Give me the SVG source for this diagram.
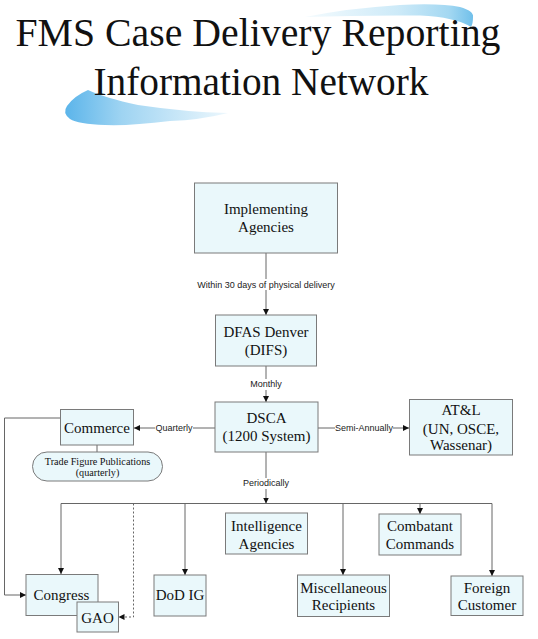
<svg xmlns="http://www.w3.org/2000/svg" width="538" height="639" viewBox="0 0 538 639">
<defs>
<linearGradient id="gTop" x1="305" y1="0" x2="474" y2="0" gradientUnits="userSpaceOnUse">
<stop offset="0" stop-color="#f4fbfe"/>
<stop offset="0.55" stop-color="#cdeaf8"/>
<stop offset="0.85" stop-color="#a4d8f2"/>
<stop offset="1" stop-color="#6fbfea"/>
</linearGradient>
<linearGradient id="gBot" x1="64" y1="0" x2="230" y2="0" gradientUnits="userSpaceOnUse">
<stop offset="0" stop-color="#5ab4ea"/>
<stop offset="0.35" stop-color="#9fd4f2"/>
<stop offset="1" stop-color="#eef8fd"/>
</linearGradient>
<marker id="arr" viewBox="0 0 10 10" refX="10" refY="5" markerWidth="6" markerHeight="6" orient="auto" markerUnits="userSpaceOnUse">
<path d="M0,0 L10,5 L0,10 z" fill="#111"/>
</marker>
</defs>
<style>
.node rect{fill:#eaf8fb;stroke:#7a7a7a;stroke-width:1}
.node text{font-family:"Liberation Serif","Times New Roman",serif;font-size:15px;fill:#111;text-anchor:middle}
.pill rect{fill:#eaf8fb;stroke:#7a7a7a;stroke-width:1}
.pill text{font-family:"Liberation Serif","Times New Roman",serif;font-size:10.2px;fill:#111;text-anchor:middle}
.conn path{fill:none;stroke:#666;stroke-width:1}
.conn .a{marker-end:url(#arr)}
.conn .d{stroke-dasharray:2,2}
.lbl{font-family:"Liberation Sans",Arial,sans-serif;font-size:9px;fill:#222;text-anchor:middle}
.title{font-family:"Liberation Serif","Times New Roman",serif;font-size:39px;fill:#111;text-anchor:middle}
</style>
<rect width="538" height="639" fill="#ffffff"/>
<g id="swooshes">
<path d="M305,17 Q350,8 400,5 Q440,3 460,7 Q474,11 473,17 Q473,24 471,27 Q455,17 420,15.5 Q360,15 305,17 Z" fill="url(#gTop)"/>
<path d="M228,113 Q200,120 170,121 Q130,126 105,125 Q78,124 70,119 Q62,113 67,106 Q74,96 88,90 Q105,98 138,105 Q185,112 228,113 Z" fill="url(#gBot)"/>
</g>
<g id="title">
<text class="title" x="258" y="45.5" textLength="485" lengthAdjust="spacingAndGlyphs">FMS Case Delivery Reporting</text>
<text class="title" x="261" y="94.5" textLength="335" lengthAdjust="spacingAndGlyphs">Information Network</text>
</g>
<g id="connectors" class="conn">
<path class="a" d="M266,253 V315"/>
<path class="a" d="M266,366 V402"/>
<path class="a" d="M215,428 H134"/>
<path class="a" d="M318,428 H409"/>
<path d="M97,445 V452"/>
<path class="a" d="M266,452 V503.5"/>
<path d="M61,503.5 H492"/>
<path class="a" d="M61,503.5 V574"/>
<path class="a" d="M185,503.5 V575"/>
<path class="a" d="M343,503.5 V575"/>
<path class="a" d="M420,503.5 V514"/>
<path class="a" d="M492,503.5 V576"/>
<path class="a" d="M60,418 H4.5 V595 H26"/>
<path class="a d" d="M133.5,503.5 V617 H118.5"/>
</g>
<g id="labels">
<rect x="195" y="279" width="142" height="11" fill="#fff"/>
<text class="lbl" x="266" y="287.5">Within 30 days of physical delivery</text>
<rect x="249" y="379" width="34" height="11" fill="#fff"/>
<text class="lbl" x="266" y="387">Monthly</text>
<rect x="155" y="423" width="38" height="10" fill="#fff"/>
<text class="lbl" x="174" y="431">Quarterly</text>
<rect x="335" y="423" width="58" height="10" fill="#fff"/>
<text class="lbl" x="364" y="431">Semi-Annually</text>
<rect x="240" y="478" width="52" height="11" fill="#fff"/>
<text class="lbl" x="266" y="486">Periodically</text>
</g>
<g id="implementing" class="node">
<rect x="194.5" y="183" width="143" height="70"/>
<text x="266" y="214">Implementing</text>
<text x="266" y="232">Agencies</text>
</g>
<g id="dfas" class="node">
<rect x="215.5" y="315" width="101" height="51"/>
<text x="266" y="337">DFAS Denver</text>
<text x="266" y="355">(DIFS)</text>
</g>
<g id="dsca" class="node">
<rect x="215" y="402" width="103" height="50"/>
<text x="266.5" y="423">DSCA</text>
<text x="266.5" y="441">(1200 System)</text>
</g>
<g id="commerce" class="node">
<rect x="60.5" y="409.5" width="73" height="35.5"/>
<text x="97" y="433">Commerce</text>
</g>
<g id="trade" class="pill">
<rect x="32.5" y="452" width="130" height="29" rx="14.5" ry="14.5"/>
<text x="97.5" y="464.5">Trade Figure Publications</text>
<text x="97.5" y="476">(quarterly)</text>
</g>
<g id="atl" class="node">
<rect x="409.5" y="399.5" width="103" height="55.5"/>
<text x="461" y="415">AT&amp;L</text>
<text x="461" y="433.5">(UN, OSCE,</text>
<text x="461" y="450">Wassenar)</text>
</g>
<g id="intelligence" class="node">
<rect x="225.5" y="513" width="82" height="41"/>
<text x="266.5" y="531">Intelligence</text>
<text x="266.5" y="548.5">Agencies</text>
</g>
<g id="combatant" class="node">
<rect x="379" y="514" width="82" height="41"/>
<text x="420" y="531">Combatant</text>
<text x="420" y="548.5">Commands</text>
</g>
<g id="congress" class="node">
<rect x="26" y="574.5" width="72" height="41"/>
<text x="61.5" y="600">Congress</text>
</g>
<g id="gao" class="node">
<rect x="77" y="602" width="41.5" height="30"/>
<text x="97.5" y="622.5">GAO</text>
</g>
<g id="dodig" class="node">
<rect x="154" y="575" width="52" height="41"/>
<text x="180" y="600">DoD IG</text>
</g>
<g id="misc" class="node">
<rect x="297.5" y="575" width="92" height="41.5"/>
<text x="343.5" y="592.5">Miscellaneous</text>
<text x="343.5" y="610">Recipients</text>
</g>
<g id="foreign" class="node">
<rect x="451" y="576" width="72" height="39.5"/>
<text x="487" y="592.5">Foreign</text>
<text x="487" y="610">Customer</text>
</g>
</svg>
